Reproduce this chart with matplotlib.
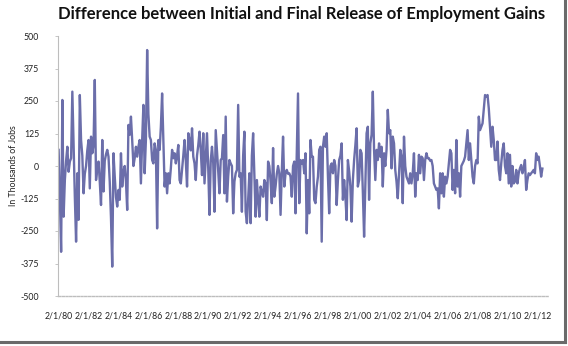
import matplotlib
matplotlib.use("Agg")
import matplotlib.pyplot as plt
import pandas as pd
from matplotlib.lines import Line2D

# Revision to monthly payroll gains (final minus initial release), thousands of jobs
revision = [
    62, -120, -330, 254, -195, -54, 20, 74, -22, 17, 30, 286, 80, -118, -291, -28,
    -207, 273, 100, 40, -105, -30, 0, 60, 100, -86, 113, 49, 80, 331, -54, -10,
    17, -60, -150, 100, -98, 20, 45, 62, 36, -60, -200, -387, 49, -40, -120, -156,
    -92, -130, 49, -79, -20, 0, -60, -169, 158, 120, 190, 100, 0, 30, 74, 36,
    74, 100, -67, 100, 235, -28, 100, 446, 200, 113, 100, 23, 10, 87, 62, -240,
    100, 62, 150, 279, 100, -79, -28, -105, -28, -67, -9, 62, 30, 49, 10, 40,
    81, -54, -67, -15, 40, 100, 20, -79, 126, 100, 60, 145, 36, 10, -54, 40,
    80, 132, 62, -35, 126, -67, 30, 126, -10, -188, 20, 74, 10, -176, 138, 62,
    -20, -105, 23, 30, 119, -105, 190, -137, -40, 23, 10, 0, -182, -60, -28, -15,
    235, -41, -28, -176, 40, 132, -176, -220, -130, -28, -220, 40, 126, -41, -195, -54,
    -130, -195, -79, -100, -118, -54, -67, -208, 17, 0, -60, -143, 69, -118, -79, -30,
    0, -28, -188, -20, 113, -79, -28, -15, -30, -28, -41, -118, 0, 17, -182, 50,
    279, -143, 23, 10, 23, -28, 49, -259, -54, -182, 100, 36, 36, -130, -143, -80,
    -41, 62, 74, -291, 74, 113, 74, 126, -40, -182, 0, 10, -28, 23, 0, -150,
    -54, 23, 40, 87, -130, -54, -118, -208, 23, -20, -79, -214, -54, 23, 80, 145,
    -79, -54, 62, 49, -100, -272, -67, 126, 151, -130, 87, 120, 286, 62, -54, 62,
    23, 87, 36, 74, -79, 49, 0, 62, 216, 126, 138, -9, 113, 87, -15, -60,
    -124, -28, 62, 36, -143, 113, 0, -41, -54, -67, -28, -67, -28, 49, -118, -28,
    -54, 43, -28, 36, 30, -54, 23, 49, 30, 30, 20, 23, 0, -67, -79, -92,
    -86, -163, -28, -105, -28, -118, -41, -67, -41, 10, 62, 49, -92, -15, -105, 100,
    -79, -28, -118, 0, 10, 20, 36, 87, 138, 23, 87, 23, -41, -67, 0, 23,
    10, 190, 138, 151, 164, 220, 273, 267, 273, 222, 145, 74, 151, 100, 23, 23,
    94, -15, -54, 10, 62, 87, 0, -28, 49, -67, 43, -79, 0, -67, -60, -15,
    -67, -28, -9, 4, -28, -9, 23, -92, -54, -28, -35, -28, -22, -15, -28, 49,
    23, 36, 0, -41, -10,
]

months = pd.date_range("1980-02-01", periods=len(revision), freq="MS")
month_labels = [f"{d.month}/{d.day}/{d.strftime('%y')}" for d in months]
label_every = 24

y_ticks = [-500, -375, -250, -125, 0, 125, 250, 375, 500]

title = "Difference between Initial and Final Release of Employment Gains"
y_title = "In Thousands of Jobs"

line_color = "#6b6eaa"
axis_gray = "#bdbdbd"
text_color = "#222222"

plt.rcParams["font.family"] = ["Lato", "DejaVu Sans"]

W, H = 568, 346
fig = plt.figure(figsize=(W / 100, H / 100), dpi=100)
fig.patch.set_facecolor("white")

left, right, top, bottom = 58, 548, 36, 296
ax = fig.add_axes([left / W, 1 - bottom / H, (right - left) / W, (bottom - top) / H])

positions = list(range(len(revision)))
ax.plot(positions, revision, color=line_color, lw=1.7, solid_joinstyle="round")

ax.set_xlim(-0.5, len(revision) + 3.5)
ax.set_ylim(-500, 500)

tick_pos = positions[::label_every]
ax.set_xticks(tick_pos)
ax.set_xticklabels([month_labels[i] for i in tick_pos], fontsize=6.3, color=text_color)
ax.tick_params(axis="x", length=0, pad=11)

ax.set_yticks(y_ticks)
ax.set_yticklabels([str(v) for v in y_ticks], fontsize=6.3, color=text_color)
ax.tick_params(axis="y", length=2.5, width=0.6, color=axis_gray, pad=11)

for side in ("top", "right"):
    ax.spines[side].set_visible(False)
ax.spines["left"].set_color(axis_gray)
ax.spines["left"].set_linewidth(0.8)
ax.spines["bottom"].set_color(axis_gray)
ax.spines["bottom"].set_linewidth(1.0)
ax.spines["bottom"].set_linestyle((0, (1.5, 1.2)))

ax.set_ylabel(y_title, fontsize=6.3, color=text_color)
ax.yaxis.set_label_coords(-(left - 18) / (right - left), 0.5)

fig.text(302 / W, 1 - 14 / H, title, ha="center", va="center",
         fontsize=12.0, fontweight="bold", color="#111111")

# Frame edge along the right and bottom of the chart area
fig.add_artist(Line2D([564.5 / W, 564.5 / W], [1 - 341.5 / H, 1.0],
                      transform=fig.transFigure, color="#6a6a6a", lw=2.2))
fig.add_artist(Line2D([0.0, 564.5 / W], [1 - 341.5 / H, 1 - 341.5 / H],
                      transform=fig.transFigure, color="#6a6a6a", lw=2.2))

fig.savefig("out.png", dpi=100, facecolor="white")
